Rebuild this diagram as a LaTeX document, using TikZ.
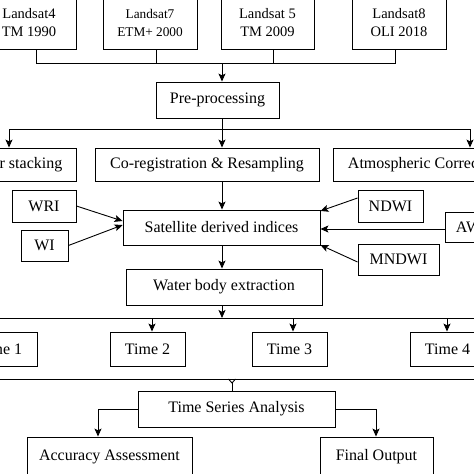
\documentclass[tikz,border=0pt]{standalone}
\usepackage{fontspec}
\setmainfont{Liberation Serif}
\usetikzlibrary{arrows.meta}
\begin{document}
\begin{tikzpicture}[x=1pt,y=-1pt,
 box/.style={draw, line width=0.9pt, inner sep=0pt, align=center, font=\fontsize{16}{18}\selectfont},
 lbox/.style={box, minimum width=94pt, minimum height=52pt, font=\fontsize{14.5}{18}\selectfont},
 conn/.style={line width=0.9pt},
 arr/.style={conn, -{Stealth[length=8pt,width=7pt,inset=1.8pt]}}]
\useasboundingbox (0,0) rectangle (474,474);
\clip (0,0) rectangle (474,474);
% Landsat row
\node[lbox] (L4) at (29,23) {Landsat4\\TM 1990};
\node[lbox, font=\fontsize{13.3}{18}\selectfont] (L7) at (150,23) {Landsat7\\ETM+ 2000};
\node[lbox, minimum width=93pt] (L5) at (267.5,23) {Landsat 5\\TM 2009};
\node[lbox] (L8) at (399,23) {Landsat8\\OLI 2018};
% Pre-processing
\node[box, minimum width=123pt, minimum height=36pt] (PP) at (217.5,100) {Pre-processing};
% second row
\node[box, minimum width=122pt, minimum height=33pt] (LS) at (15,164.5) {Layer stacking};
\node[box, minimum width=224pt, minimum height=33pt] (CR) at (207,164.5) {Co-registration \& Resampling};
\node[box, minimum width=185pt, minimum height=33pt] (AC) at (425.5,164.5) {Atmospheric Correction};
% indices
\node[box, minimum width=197pt, minimum height=35pt] (SDI) at (221.5,227.5) {Satellite derived indices};
\node[box, minimum width=64pt, minimum height=32pt] (WRI) at (44,206) {WRI};
\node[box, minimum width=47pt, minimum height=31pt] (WI) at (44.5,245.5) {WI};
\node[box, minimum width=65pt, minimum height=32pt] (NDWI) at (390.5,206) {NDWI};
\node[box, minimum width=62pt, minimum height=30pt] (AW) at (476,227) {AWEI};
\node[box, minimum width=81pt, minimum height=31pt] (MNDWI) at (398.5,259.5) {MNDWI};
% water body
\node[box, minimum width=196pt, minimum height=36pt] (WBE) at (224,287) {Water body extraction};
% time row
\node[box, minimum width=75pt, minimum height=34pt] (T1) at (-0.5,349) {Time 1};
\node[box, minimum width=75pt, minimum height=34pt] (T2) at (147.5,349) {Time 2};
\node[box, minimum width=75pt, minimum height=34pt] (T3) at (289.5,349) {Time 3};
\node[box, minimum width=75pt, minimum height=34pt] (T4) at (447.5,349) {Time 4};
% analysis
\node[box, minimum width=197pt, minimum height=36pt] (TSA) at (236.5,409) {Time Series Analysis};
\node[box, minimum width=165pt, minimum height=40pt] (AA) at (109.5,457) {Accuracy Assessment};
\node[box, minimum width=113pt, minimum height=40pt] (FO) at (376.5,457) {Final Output};

% coordinates for buses
\coordinate (b1) at (36,63);
\coordinate (b2) at (156,63);
\coordinate (b3) at (273,63);
\coordinate (b4) at (395,63);
\coordinate (bm) at (222,63);
\coordinate (p1) at (222,129);
\coordinate (p0) at (9,129);
\coordinate (p2) at (470,129);
\coordinate (w0) at (222,318);
\coordinate (wl) at (-40,318);
\coordinate (wr) at (520,318);
\coordinate (t1) at (-6,318);
\coordinate (t2) at (152,318);
\coordinate (t3) at (293,318);
\coordinate (t4) at (447,318);
\coordinate (ml) at (-40,379);
\coordinate (mr) at (520,379);
\coordinate (my) at (232,383);
\coordinate (al) at (98,409);
\coordinate (fr) at (376,409);

% top bus
\draw[conn] (b1 |- L4.south) -- (b1) -- (b4) -- (b4 |- L8.south);
\draw[conn] (b2 |- L7.south) -- (b2);
\draw[conn] (b3 |- L5.south) -- (b3);
\draw[arr] (bm) -- (bm |- PP.north);
% pre-processing bus
\draw[conn] (p1 |- PP.south) -- (p1);
\draw[conn] (p0) -- (p2);
\draw[arr] (p0) -- (p0 |- LS.north);
\draw[arr] (p1) -- (p1 |- CR.north);
\draw[arr] (p2) -- (p2 |- AC.north);
% to indices
\draw[arr] (p1 |- CR.south) -- (p1 |- SDI.north);
\draw[arr] (WRI.east) -- ([yshift=6.5pt]SDI.west);
\draw[arr] (WI.east) -- ([yshift=2.5pt]SDI.west);
\draw[arr] ([yshift=8pt]NDWI.west) -- ([yshift=16.5pt]SDI.east);
\draw[arr] (AW.west |- 0,229) -- (SDI.east |- 0,229);
\draw[arr] ([yshift=-2.5pt]MNDWI.west) -- ([yshift=-17.5pt]SDI.east);
\draw[arr] (p1 |- SDI.south) -- (p1 |- WBE.north);
% time bus
\draw[arr] (p1 |- WBE.south) -- (w0);
\draw[conn] (wl) -- (wr);
\draw[arr] (t1) -- (t1 |- T1.north);
\draw[arr] (t2) -- (t2 |- T2.north);
\draw[arr] (t3) -- (t3 |- T3.north);
\draw[arr] (t4) -- (t4 |- T4.north);
% merge bus
\draw[conn] (ml) -- (mr);
\draw[conn] (228.5,379) -- (my) -- (235.5,379);
\draw[conn] (my) -- (my |- TSA.north);
% outputs
\draw[arr] (TSA.west |- al) -- (al) -- (al |- AA.north);
\draw[arr] (TSA.east |- fr) -- (fr) -- (fr |- FO.north);
\end{tikzpicture}
\end{document}
